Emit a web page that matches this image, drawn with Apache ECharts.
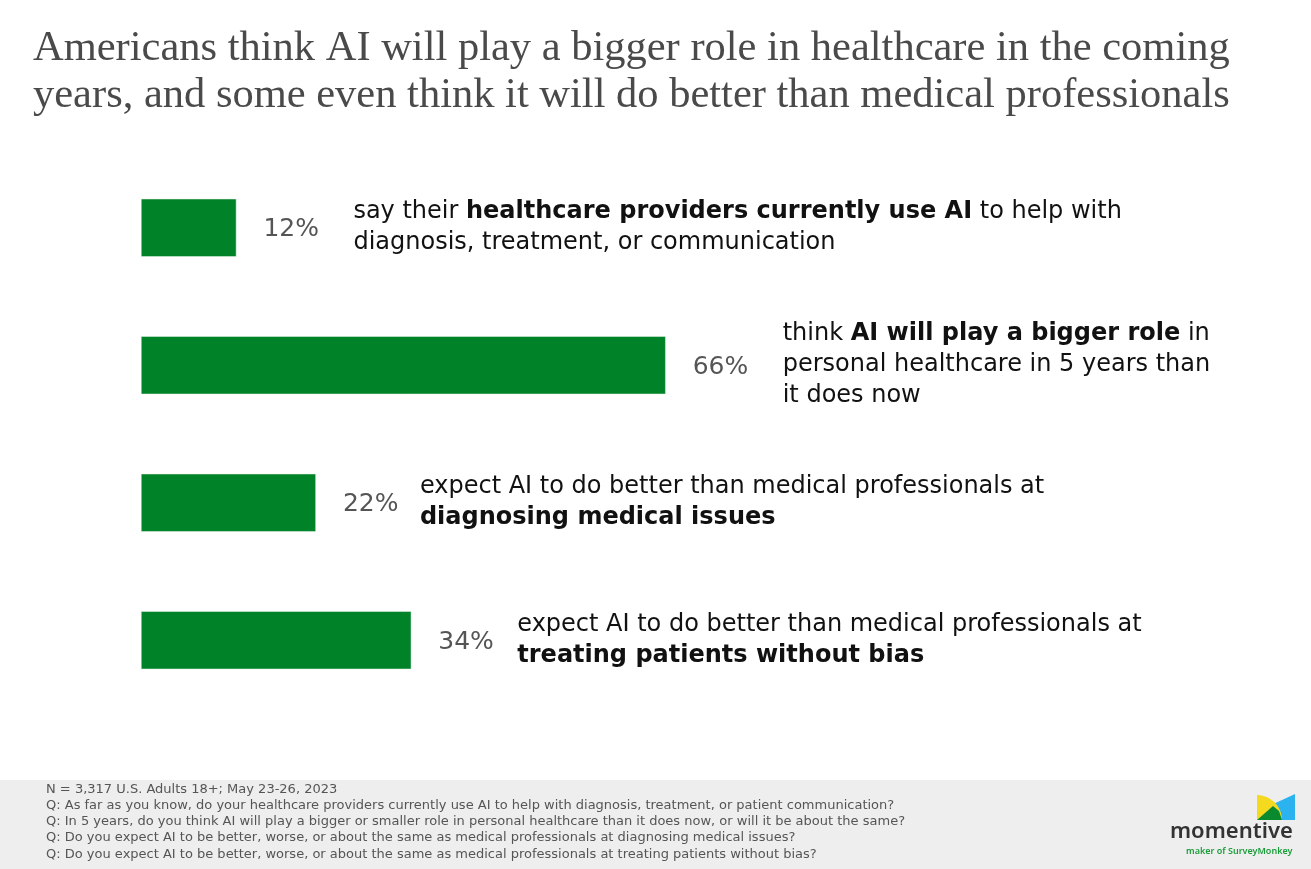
<!DOCTYPE html>
<html>
<head>
<meta charset="utf-8">
<script src="https://cdn.jsdelivr.net/npm/echarts@6/dist/echarts.min.js"></script>
<style>
  html, body { margin: 0; padding: 0; background: #ffffff; }
  #main { width: 1311px; height: 869px; }
</style>
</head>
<body>
<div id="main"></div>
<script>
// survey results, one row per question
var categories = ['providers', 'biggerRole', 'diagnosing', 'treating'];
var shares = [12, 66, 22, 34];
var pctLabels = ['12%', '66%', '22%', '34%'];
// description text, {b|...} marks the bold parts
var descriptions = [
    'say their {b|healthcare providers currently use AI} to help with\ndiagnosis, treatment, or communication',
    'think {b|AI will play a bigger role} in\npersonal healthcare in 5 years than\nit does now',
    'expect AI to do better than medical professionals at\n{b|diagnosing medical issues}',
    'expect AI to do better than medical professionals at\n{b|treating patients without bias}'
];
var titleLines = [
    'Americans think AI will play a bigger role in healthcare in the coming',
    'years, and some even think it will do better than medical professionals'
];
var footnotes = [
    'N = 3,317 U.S. Adults 18+; May 23-26, 2023',
    'Q: As far as you know, do your healthcare providers currently use AI to help with diagnosis, treatment, or patient communication?',
    'Q: In 5 years, do you think AI will play a bigger or smaller role in personal healthcare than it does now, or will it be about the same?',
    'Q: Do you expect AI to be better, worse, or about the same as medical professionals at diagnosing medical issues?',
    'Q: Do you expect AI to be better, worse, or about the same as medical professionals at treating patients without bias?'
];

// gap from bar end to description text (px), per row
var descOffset = [117, 117, 104, 106];

var chart = echarts.init(document.getElementById('main'));

var option = {
    backgroundColor: '#ffffff',
    animation: false,
    grid: {left: 141, right: 375, top: 159, bottom: 160},
    xAxis: {type: 'value', min: 0, max: 100, show: false},
    yAxis: {type: 'category', data: categories, inverse: true, show: false},
    graphic: [
        {type: 'text', left: 33, top: 25, style: {text: titleLines.join('\n'), font: '400 42.5px "Liberation Serif", serif', fill: '#4a4a4a', lineHeight: 47}},
        {type: 'rect', shape: {x: 0, y: 780, width: 1311, height: 89}, style: {fill: '#eeeeee'}, z: -1},
        {type: 'text', left: 46, top: 781, style: {text: footnotes.join('\n'), font: '13px "DejaVu Sans", sans-serif', fill: '#555555', lineHeight: 16.3}},
        // momentive logo
        {type: 'polygon', shape: {points: [[1269, 806], [1295, 794], [1295, 820], [1281, 820]]}, style: {fill: '#2bb3ef'}},
        {type: 'sector', shape: {cx: 1257, cy: 820, r0: 0, r: 25, startAngle: -Math.PI / 2, endAngle: 0}, style: {fill: '#f5d91e'}},
        {type: 'polygon', shape: {points: [[1257, 820], [1273, 806], [1279, 811], [1282, 820]]}, style: {fill: '#0a8a2e'}},
        {type: 'text', left: 1170, top: 821, style: {text: 'momentive', font: '600 22px "Noto Sans", sans-serif', fill: '#333333'}},
        {type: 'text', left: 1186, top: 847, style: {text: 'maker of SurveyMonkey', font: '600 9px "Noto Sans", sans-serif', fill: '#1a9e3a'}}
    ],
    series: [
        {
            type: 'bar',
            data: shares,
            barWidth: 58,
            itemStyle: {color: '#008228', borderColor: '#e8f2ea', borderWidth: 0.5},
            label: {
                show: true,
                position: 'right',
                distance: 27,
                offset: [0, 2],
                formatter: function (p) { return pctLabels[p.dataIndex]; },
                fontFamily: '"DejaVu Sans"',
                fontSize: 25,
                color: '#555555'
            }
        },
        {
            type: 'custom',
            data: shares.map(function (v, i) { return [v, i]; }),
            renderItem: function (params, api) {
                var pt = api.coord([api.value(0), api.value(1)]);
                var i = params.dataIndex;
                return {
                    type: 'text',
                    x: pt[0] + descOffset[i],
                    y: pt[1],
                    style: {
                        text: descriptions[i],
                        fontFamily: '"DejaVu Sans", sans-serif',
                        fontSize: 24,
                        fill: '#111111',
                        lineHeight: 31,
                        verticalAlign: 'middle',
                        rich: {
                            b: {fontFamily: '"DejaVu Sans", sans-serif', fontSize: 24, fontWeight: 'bold', fill: '#111111', lineHeight: 31}
                        }
                    }
                };
            }
        }
    ]
};

chart.setOption(option);
</script>
</body>
</html>
